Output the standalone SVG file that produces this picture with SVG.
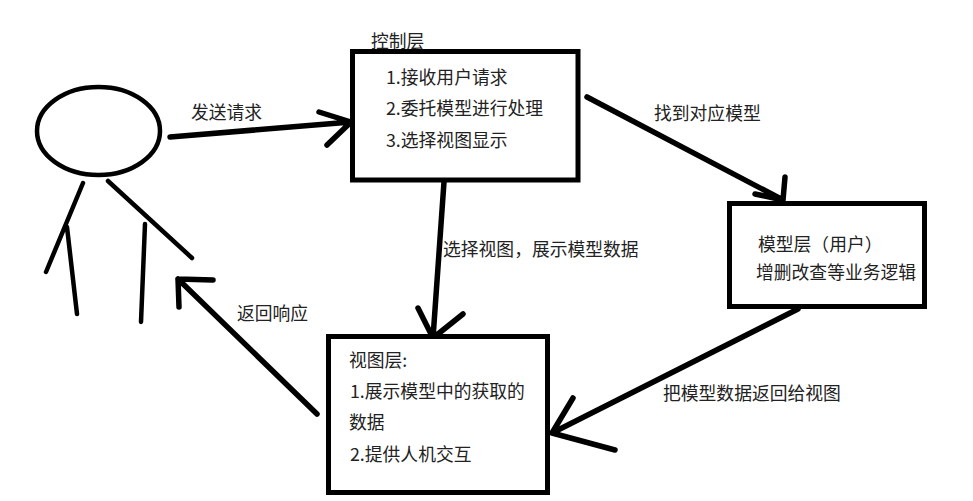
<svg xmlns="http://www.w3.org/2000/svg" width="973" height="501" viewBox="0 0 973 501">
<style>
.bg{fill:#fff}
.box{fill:#fff;stroke:#000;stroke-width:5}
.ln{fill:none;stroke:#000;stroke-width:5.500;stroke-linecap:round;stroke-linejoin:round}
.head{stroke-width:4.500}
text{font-family:"Noto Sans CJK SC","Liberation Sans",sans-serif;font-size:17.800px;fill:#222}
</style>
<rect class="bg" width="973" height="501"/>
<g id="connectors">
<path class="ln" d="M170 137L351 122M319 112L351 122L327 145"/>
<path class="ln" d="M587 97L783 200M785 177L783 200L755 194"/>
<path class="ln" d="M444 182L433 338M418 308L433 338L463 314"/>
<path class="ln" d="M798 309L552 433M573 398L552 433L615 450"/>
<path class="ln" d="M317 414L178 279M213 280L178 279L179 307"/>
</g>
<g id="user">
<ellipse class="ln head" cx="98.500" cy="131" rx="61.500" ry="44"/>
<path class="ln head" d="M83 183L46 272M67 227L77 314M145 224L141 322M108 181L192 258"/>
</g>
<g id="controller">
<text x="371" y="48">控制层</text>
<rect class="box" x="352.500" y="51.500" width="225.500" height="128.500"/>
<text x="386" y="84">1.接收用户请求</text>
<text x="386" y="115">2.委托模型进行处理</text>
<text x="386" y="147">3.选择视图显示</text>
</g>
<g id="model">
<rect class="box" x="729.500" y="203.500" width="195" height="103"/>
<text x="758" y="251">模型层（用户）</text>
<text x="756" y="279">增删改查等业务逻辑</text>
</g>
<g id="view">
<rect class="box" x="328.500" y="336.500" width="219" height="156"/>
<text x="349" y="367">视图层:</text>
<text x="350" y="398">1.展示模型中的获取的</text>
<text x="349" y="429">数据</text>
<text x="350" y="461">2.提供人机交互</text>
</g>
<g id="connector-labels">
<text x="191" y="119">发送请求</text>
<text x="654" y="120">找到对应模型</text>
<text x="443" y="256">选择视图，展示模型数据</text>
<text x="237" y="320">返回响应</text>
<text x="663" y="400">把模型数据返回给视图</text>
</g>
</svg>
